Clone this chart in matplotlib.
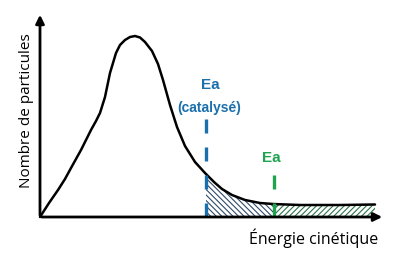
import numpy as np
import matplotlib.pyplot as plt

# curve (energy, number of particles), arbitrary units
energie = np.array([0, 9, 18, 25, 31, 36, 41, 46, 51, 56, 60, 65, 70, 76, 80, 85,
                    90, 95, 100, 105, 112, 118, 123, 130, 137, 145, 155, 165, 174,
                    182, 192, 205, 220, 233, 260, 300, 335])
particules = np.array([0, 14, 27, 38, 49, 58, 67, 77, 87, 96, 104, 120, 144, 164,
                       172, 177, 180, 181, 179.5, 175, 166, 153, 137, 112, 90, 71,
                       55, 44, 35, 28, 22, 17, 14, 13, 12, 12, 12.5])

ea_cat = 166    # Ea (catalysé)
ea = 234        # Ea
x_fin = 335

fig = plt.figure(figsize=(4.01, 2.57), dpi=100)
ax = fig.add_axes([0, 0, 1, 1])
ax.set_xlim(-40, 361)
ax.set_ylim(-40, 217)
ax.axis('off')

bleu = '#1a6fad'
vert = '#1fa34f'

# hatched areas under the curve
xx = np.linspace(ea_cat, x_fin, 400)
yy = np.interp(xx, energie, particules)
plt.rcParams['hatch.linewidth'] = 0.8
m1 = xx <= ea
ax.fill_between(xx[m1], 0, yy[m1], facecolor='none', edgecolor='#2f4a68',
                hatch='\\' * 6, linewidth=0)
m2 = xx >= ea
ax.fill_between(xx[m2], 0, yy[m2], facecolor='none', edgecolor='#2a7448',
                hatch='/' * 6, linewidth=0)

ax.plot(energie, particules, color='black', lw=1.8, solid_capstyle='round',
        solid_joinstyle='round')

# axes with arrows
ax.annotate('', xy=(345, 0), xytext=(-1, 0),
            arrowprops=dict(arrowstyle='-|>,head_length=0.5,head_width=0.25',
                            color='black', lw=2))
ax.annotate('', xy=(0, 205), xytext=(0, -1),
            arrowprops=dict(arrowstyle='-|>,head_length=0.5,head_width=0.25',
                            color='black', lw=2))

# activation energies
ax.plot([ea_cat, ea_cat], [0, 99], color=bleu, lw=2.4, dashes=(4.2, 4.2),
        dash_capstyle='butt')
ax.plot([ea, ea], [0, 42], color=vert, lw=2.4, dashes=(4.2, 4.2),
        dash_capstyle='butt')

ax.text(ea_cat + 4, 132, 'Ea', color=bleu, fontsize=11, fontweight='bold',
        family='Liberation Sans', ha='center', va='center')
ax.text(ea_cat + 3, 109, '(catalysé)', color=bleu, fontsize=10, fontweight='bold',
        family='Liberation Sans', ha='center', va='center')
ax.text(ea - 3, 59, 'Ea', color=vert, fontsize=11, fontweight='bold',
        family='Liberation Sans', ha='center', va='center')

ax.text(274, -21, 'Énergie cinétique', fontsize=11.5, family='Open Sans',
        ha='center', va='center')
ax.text(-14, 106, 'Nombre de particules', fontsize=11, family='Open Sans',
        rotation=90, ha='center', va='center')

plt.savefig('out.png', dpi=100)
